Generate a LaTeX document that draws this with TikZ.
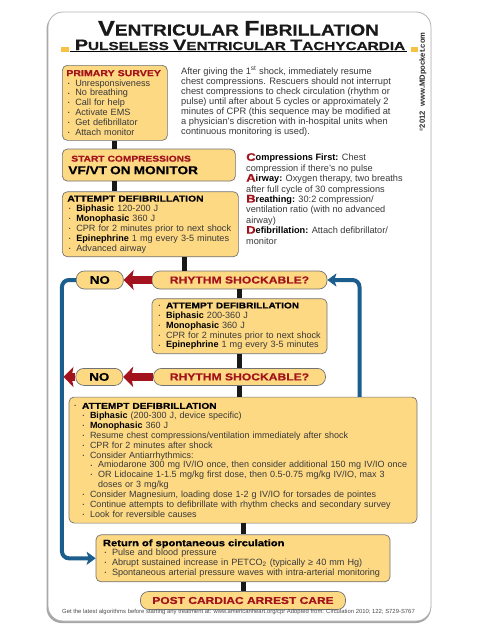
\documentclass[tikz,border=0pt]{standalone}
\usepackage{fontspec}
\setmainfont{Liberation Sans}
\newfontfamily\heavyfont{Liberation Sans}[FakeStretch=1.2, BoldFeatures={FakeBold=0.6}]
\usetikzlibrary{arrows.meta,positioning}
\definecolor{cardyellow}{HTML}{FDD984}
\definecolor{baryellow}{HTML}{F5C242}
\definecolor{edgegray}{HTML}{727272}
\definecolor{alarmred}{HTML}{A3131D}
\definecolor{loopblue}{HTML}{1B5D8C}
\definecolor{bodygray}{HTML}{383838}
\newcommand\bodyfont{\fontsize{9.1}{9.9}\selectfont}
\newcommand\hd[2]{{\heavyfont\bfseries\fontsize{#1}{#1}\selectfont #2}}
\newcommand\lbl[1]{{\bfseries\color{black}#1}}
\newcommand\dotitem{\makebox[9pt][l]{\hspace{1.5pt}\raisebox{.2ex}{\scalebox{.55}{•}}}}
\newcommand\initial[1]{{\heavyfont\bfseries\fontsize{11}{10}\selectfont\color{alarmred}#1}}
\tikzset{
  ybox/.style={rectangle, rounded corners=5pt, draw=edgegray, line width=0.7pt,
               fill=cardyellow, align=left, inner xsep=5pt, inner ysep=2pt,
               anchor=north west, font=\bodyfont, text=bodygray},
  pill/.style={rectangle, rounded corners=8pt, draw=edgegray, line width=0.7pt,
               fill=cardyellow, inner sep=0pt, minimum height=18pt},
  link/.style={line width=5pt, black!90},
  redarrow/.style={-{Stealth[length=10pt, width=20pt, inset=2pt]}, line width=8pt, alarmred},
  looparrow/.style={-{Stealth[length=9pt, width=13pt, inset=2pt]}, line width=4pt,
                    loopblue, rounded corners=7pt}
}
\begin{document}
\begin{tikzpicture}[x=1pt, y=-1pt]
  \useasboundingbox (0,0) rectangle (480,640);
  % card
  \fill[black!35, rounded corners=15pt] (46.5,14) rectangle (431,623);
  \filldraw[fill=white, draw=black!30, line width=0.8pt, rounded corners=15pt] (48,12) rectangle (431,621);

  % title
  \node[anchor=base, inner sep=0pt, text=black!90] (title1) at (238.5,35.5)
    {\hd{21}{V}\hd{15.9}{ENTRICULAR }\hd{21}{F}\hd{15.9}{IBRILLATION}};
  \node[anchor=base, inner sep=0pt, text=black!90] (title2) at (240,50)
    {\scalebox{1.1}[1]{\hd{15}{P}\hd{11.6}{ULSELESS }\hd{15}{V}\hd{11.6}{ENTRICULAR }\hd{15}{T}\hd{11.6}{ACHYCARDIA}}};
  \draw[line width=1pt] ([xshift=-5pt, yshift=-1.5pt]title2.base west) -- ([xshift=2pt, yshift=-1.5pt]title2.base east);
  \fill[baryellow] (61,47) rectangle (69,51.5);
  \fill[baryellow] (411,47) rectangle (418,51.5);
  \node[rotate=90, inner sep=0pt, font=\bfseries\fontsize{7.6}{8}\selectfont, text=black!85] (credit) at (423,82)
    {\raisebox{2pt}{\scalebox{.6}{©}}2012\hspace{5pt}www.MDpocket.com};

  % left column
  \node[ybox, text width=97pt, inner xsep=4pt, minimum height=75pt] (survey) at (62,65)
    {\hd{8.8}{\color{alarmred}PRIMARY SURVEY}\\ \dotitem Unresponsiveness\\ \dotitem No breathing\\
     \dotitem Call for help\\ \dotitem Activate EMS\\ \dotitem Get defibrillator\\ \dotitem Attach monitor};
  \node[ybox, below=8pt of survey.south west, anchor=north west, text width=161pt, inner xsep=6pt,
        minimum height=32pt, font=\fontsize{9}{12.5}\selectfont] (startc)
    {\hspace*{3pt}\hd{8.5}{\color{alarmred}START COMPRESSIONS}\\ \hd{11.4}{\color{black}VF/VT ON MONITOR}};
  \node[ybox, below=10pt of startc.south west, anchor=north west, text width=166pt, minimum height=65pt] (defib1)
    {\hd{8.6}{\color{black}ATTEMPT DEFIBRILLATION}\\ \dotitem\lbl{Biphasic} 120-200 J\\ \dotitem\lbl{Monophasic} 360 J\\
     \dotitem CPR for 2 minutes prior to next shock\\ \dotitem\lbl{Epinephrine} 1 mg every 3-5 minutes\\ \dotitem Advanced airway};

  % notes
  \node[anchor=north west, inner sep=0pt, align=left, font=\fontsize{9.3}{10}\selectfont, text=bodygray] (note) at (181,66)
    {After giving the 1\textsuperscript{st} shock, immediately resume\\
     chest compressions. Rescuers should not interrupt\\
     chest compressions to check circulation (rhythm or\\
     pulse) until after about 5 cycles or approximately 2\\
     minutes of CPR (this sequence may be modified at\\
     a physician's discretion with in-hospital units when\\
     continuous monitoring is used).};
  \node[anchor=north west, inner sep=0pt, align=left, font=\fontsize{9.2}{10.4}\selectfont, text=bodygray] (cabd) at (246,153)
    {\initial{C}\lbl{ompressions First:} Chest\\ compression if there's no pulse\\
     \initial{A}\lbl{irway:} Oxygen therapy, two breaths\\ after full cycle of 30 compressions\\
     \initial{B}\lbl{reathing:} 30:2 compression/\\ ventilation ratio (with no advanced\\ airway)\\
     \initial{D}\lbl{efibrillation:} Attach defibrillator/\\ monitor};

  % rhythm checks
  \node[pill, minimum width=175pt] (rhythm1) at (239.5,280) {\hd{10.1}{\color{alarmred}RHYTHM SHOCKABLE?}};
  \node[pill, minimum width=47pt, left=28pt of rhythm1] (no1) {\hd{11.1}{\color{black}NO}};
  \node[ybox, below=9pt of rhythm1, anchor=north, text width=165pt, minimum height=55pt] (defib2)
    {\dotitem\hd{8.4}{\color{black}ATTEMPT DEFIBRILLATION}\\ \dotitem\lbl{Biphasic} 200-360 J\\ \dotitem\lbl{Monophasic} 360 J\\
     \dotitem CPR for 2 minutes prior to next shock\\ \dotitem\lbl{Epinephrine} 1 mg every 3-5 minutes};
  \node[pill, minimum width=172pt, minimum height=17pt, below=14pt of defib2] (rhythm2) {\hd{10.1}{\color{alarmred}RHYTHM SHOCKABLE?}};
  \node[pill, minimum width=47pt, minimum height=17pt, left=30pt of rhythm2] (no2) {\hd{11.1}{\color{black}NO}};

  % big box
  \node[ybox, below=11pt of rhythm2, anchor=north, xshift=3.5pt, text width=340pt, inner xsep=4pt, inner ysep=0pt,
        minimum height=126pt, font=\fontsize{9}{9.85}\selectfont] (defib3)
    {\dotitem\hd{8.5}{\color{black}ATTEMPT DEFIBRILLATION}\\
     \hspace*{8pt}\dotitem\lbl{Biphasic} (200-300 J, device specific)\\
     \hspace*{8pt}\dotitem\lbl{Monophasic} 360 J\\
     \hspace*{8pt}\dotitem Resume chest compressions/ventilation immediately after shock\\
     \hspace*{8pt}\dotitem CPR for 2 minutes after shock\\
     \hspace*{8pt}\dotitem Consider Antiarrhythmics:\\
     \hspace*{16pt}\dotitem Amiodarone 300 mg IV/IO once, then consider additional 150 mg IV/IO once\\
     \hspace*{16pt}\dotitem OR Lidocaine 1-1.5 mg/kg first dose, then 0.5-0.75 mg/kg IV/IO, max 3\\
     \hspace*{25pt}doses or 3 mg/kg\\
     \hspace*{8pt}\dotitem Consider Magnesium, loading dose 1-2 g IV/IO for torsades de pointes\\
     \hspace*{8pt}\dotitem Continue attempts to defibrillate with rhythm checks and secondary survey\\
     \hspace*{8pt}\dotitem Look for reversible causes};
  \node[ybox, below=11pt of defib3, anchor=north, text width=280pt, inner xsep=7pt, inner ysep=0pt, minimum height=47pt,
        font=\fontsize{9.1}{9.7}\selectfont] (rosc)
    {\hd{9.3}{\color{black}Return of spontaneous circulation}\\ \dotitem Pulse and blood pressure\\
     \dotitem Abrupt sustained increase in PETCO\textsubscript{2} (typically ≥ 40 mm Hg)\\
     \dotitem Spontaneous arterial pressure waves with intra-arterial monitoring};
  \node[pill, minimum width=205pt, below=9pt of rosc] (post) {\hd{10}{\color{alarmred}POST CARDIAC ARREST CARE}};
  \node[anchor=base, inner sep=0pt, font=\fontsize{5.9}{6}\selectfont, text=black!70] (source) at (238.5,613)
    {Get the latest algorithms before starting any treatment at: www.americanheart.org/cpr Adopted from: Circulation 2010; 122; S729-S767};

  % connectors
  \draw[link] (survey.south) -- (survey.south |- startc.north);
  \draw[link] (survey.south |- startc.south) -- (survey.south |- defib1.north);
  \draw[link] ([xshift=34pt]defib1.south) -- ([xshift=34pt]defib1.south |- rhythm1.north);
  \draw[link] (rhythm1) -- (defib2);
  \draw[link] (defib2) -- (rhythm2);
  \draw[link] (rhythm2.south) -- (rhythm2.south |- defib3.north);
  \draw[link] (defib3) -- (rosc);
  \draw[link] (rosc) -- (post);

  % loops
  \draw[looparrow] (no1.west) -| ([xshift=-14pt]no1.west |- rosc.west) -- (rosc.west);
  \draw[looparrow] ([xshift=116.5pt]defib3.north) |- (rhythm1.east);

  % no branches
  \draw[redarrow] (rhythm1.west) -- (no1.east);
  \draw[redarrow] (rhythm2.west) -- (no2.east);
  \coordinate[left=12pt of no2.west] (noexit);
  \draw[redarrow] (no2.west) -- (noexit);
\end{tikzpicture}
\end{document}
